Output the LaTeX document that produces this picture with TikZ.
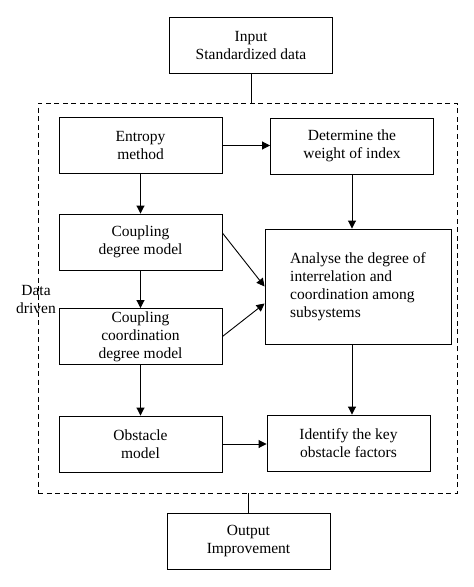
\documentclass[tikz,border=0pt]{standalone}
\usepackage{fontspec}
\setmainfont{Liberation Serif}
\usetikzlibrary{arrows.meta}
\begin{document}
\begin{tikzpicture}[x=1pt,y=-1pt,
  box/.style={draw,line width=0.9pt,minimum width=163pt,minimum height=56pt,inner sep=0pt,
    font=\fontsize{15.5}{18}\selectfont,align=center},
  frame/.style={draw,line width=0.9pt,dash pattern=on 5pt off 3.5pt,inner sep=0pt},
  arr/.style={line width=0.9pt,-{Triangle[length=8pt,width=8pt]}},
  ln/.style={line width=0.9pt}]
\useasboundingbox (0,0) rectangle (474,587);
\node[box] (input) at (251,45) {Input\\Standardized data};
\node[frame,minimum width=419pt,minimum height=390pt] (frame) at (247.5,298) {};
\node[box] (entropy) at (140.5,145.5) {Entropy\\method};
\node[box] (determine) at (352,146) {Determine the\\weight of index};
\node[box] (coupling) at (140.5,242) {Coupling\\degree model};
\node[box,minimum width=186pt,minimum height=115pt,align=left] (analyse) at (358,286.5)
  {Analyse the degree of\\interrelation and\\coordination among\\subsystems};
\node[box] (coupcoord) at (140.5,336.5) {Coupling\\coordination\\degree model};
\node[box] (obstacle) at (140.5,444) {Obstacle\\model};
\node[box] (identify) at (348.5,443) {Identify the key\\obstacle factors};
\node[box] (output) at (248.5,541.5) {Output\\Improvement};
\node[font=\fontsize{15.5}{18}\selectfont,align=center,inner sep=0pt] (label) at (36,299) {Data\\driven};
\draw[ln] (input.south) -- (input.south |- frame.north);
\draw[ln] (frame.south -| output.north) -- (output.north);
\draw[arr] (entropy.east) -- (entropy.east -| determine.west);
\draw[arr] (entropy.south) -- (coupling.north);
\draw[arr] (determine.south) -- (determine.south |- analyse.north);
\draw[arr] ([yshift=9pt]coupling.east) -- (analyse.west);
\draw[arr] (coupcoord.east) -- ([yshift=-17pt]analyse.west);
\draw[arr] (coupling.south) -- (coupcoord.north);
\draw[arr] (coupcoord.south) -- (obstacle.north);
\draw[arr] (determine.south |- analyse.south) -- (determine.south |- identify.north);
\draw[arr] (obstacle.east) -- (obstacle.east -| identify.west);
\end{tikzpicture}
\end{document}
